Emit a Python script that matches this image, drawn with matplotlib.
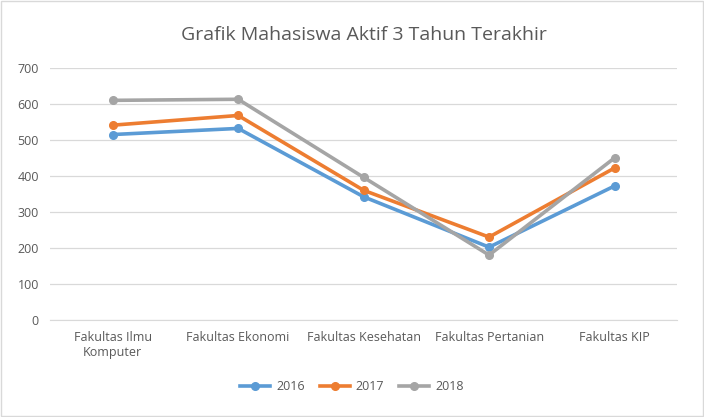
import matplotlib.pyplot as plt

categories = ["Fakultas Ilmu\nKomputer", "Fakultas Ekonomi", "Fakultas Kesehatan",
              "Fakultas Pertanian", "Fakultas KIP"]
s2016 = [515, 532, 342, 202, 372]
s2017 = [541, 568, 360, 230, 422]
s2018 = [610, 613, 396, 180, 450]

plt.rcParams['font.family'] = ['Open Sans', 'DejaVu Sans']

fig = plt.figure(figsize=(7.04, 4.17), dpi=100)
ax = fig.add_axes([0.071, 0.233, 0.891, 0.604])

x = range(len(categories))
for vals, lab, col in [(s2016, "2016", "#5B9BD5"), (s2017, "2017", "#ED7D31"), (s2018, "2018", "#A5A5A5")]:
    ax.plot(x, vals, color=col, lw=2.6, marker='o', ms=5.5, label=lab)

ax.set_xlim(-0.5, 4.5)
ax.set_ylim(0, 700)
ax.set_yticks(range(0, 701, 100))
ax.set_xticks(list(x))
ax.set_xticklabels(categories)
ax.grid(axis='y', color='#D9D9D9', lw=0.9)
ax.set_axisbelow(True)
for s in ['top', 'right', 'left']:
    ax.spines[s].set_visible(False)
ax.spines['bottom'].set_color('#D9D9D9')
ax.tick_params(length=0, labelsize=9, colors='#595959', pad=8)

ax.set_title("Grafik Mahasiswa Aktif 3 Tahun Terakhir", fontsize=14, color='#595959', pad=20)
fig.legend(loc='lower center', bbox_to_anchor=(0.5, 0.03), ncol=3, frameon=False,
           fontsize=9, labelcolor='#595959', handlelength=2.4, columnspacing=1.2,
           handletextpad=0.5)

fig.patches.append(plt.Rectangle((0.002, 0.002), 0.996, 0.996, transform=fig.transFigure,
                                 fill=False, edgecolor='#D9D9D9', lw=1))
fig.savefig("out.png", dpi=100)
